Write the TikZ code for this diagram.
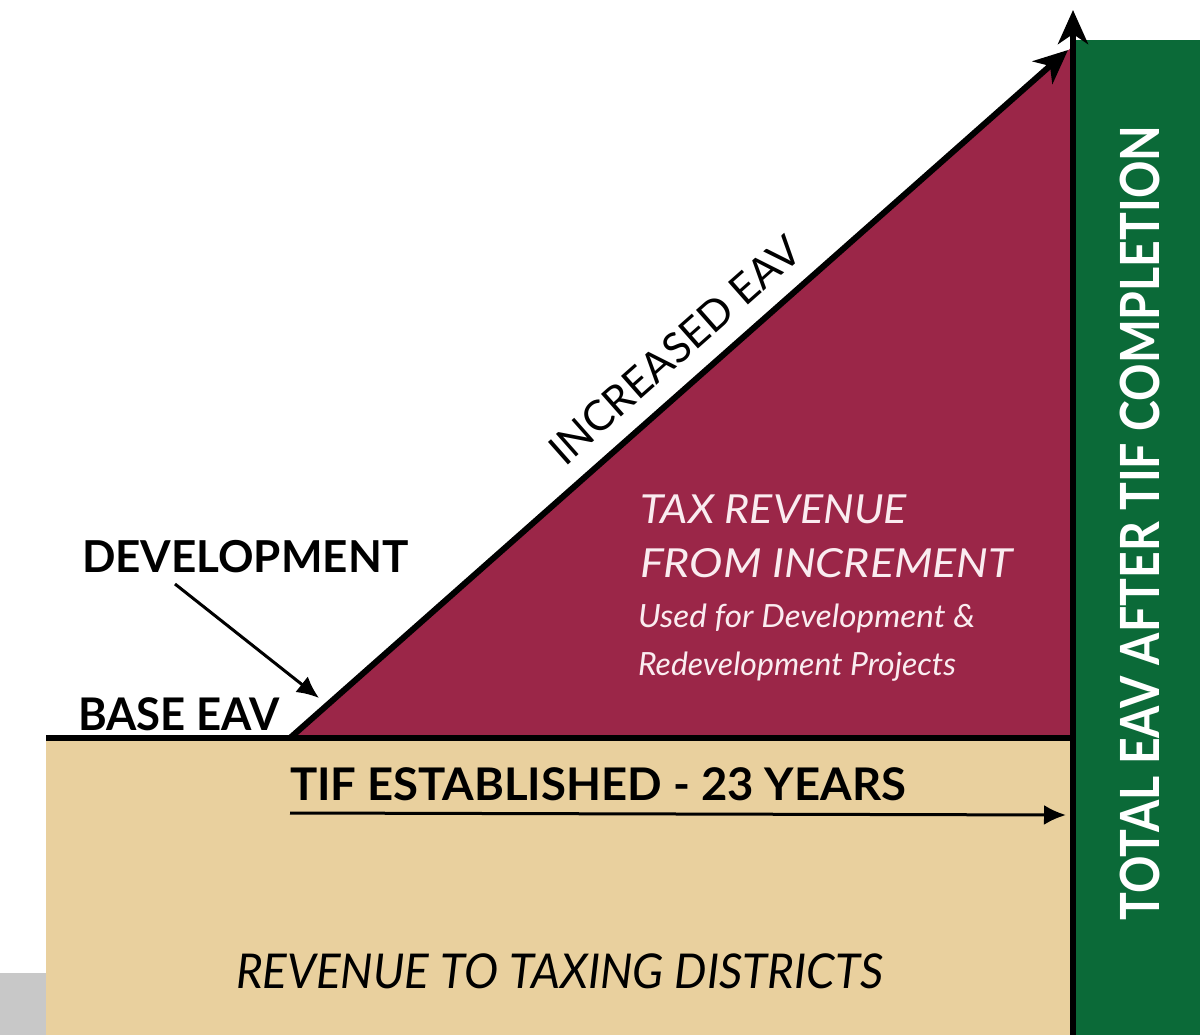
\documentclass[tikz,border=0pt]{standalone}
\usepackage{fontspec}
\setmainfont{Lato}
\usetikzlibrary{arrows.meta}
\definecolor{maroonfill}{RGB}{155,38,72}
\definecolor{tanfill}{RGB}{233,208,158}
\definecolor{greenfill}{RGB}{11,106,56}
\definecolor{grayfill}{RGB}{200,200,200}
\definecolor{pinktext}{RGB}{250,236,240}
\tikzset{
  lbl/.style={inner sep=0pt, outer sep=0pt, anchor=base west, text=black},
  boldlbl/.style={lbl, font=\fontsize{44}{44}\selectfont\bfseries},
  inclbl/.style={lbl, text=pinktext, font=\fontsize{40}{40}\selectfont\itshape},
  smalllbl/.style={lbl, text=pinktext, font=\fontsize{32}{32}\selectfont\itshape},
  thinarrow/.style={draw=black, line width=3pt, -{Latex[length=22pt,width=20pt]}},
  thickarrow/.style={draw=black, line width=6pt, -{Stealth[length=34pt,width=30pt,inset=10pt]}},
}
\begin{document}
\begin{tikzpicture}[x=1pt,y=-1pt]
\useasboundingbox (0,0) rectangle (1200,1035);
% areas
\fill[grayfill] (0,973) rectangle (46,1035);
\fill[tanfill] (46,738) rectangle (1073,1035);
\fill[greenfill] (1076,40) rectangle (1200,1035);
\coordinate (base) at (290,738);
\coordinate (apex) at (1068,50);
\coordinate (corner) at (1073,738);
\fill[maroonfill] (base) -- (1073,46) -- (corner) -- cycle;
% base line
\coordinate (left) at (46,738);
\coordinate (right) at (1076,738);
\draw[line width=6pt] (left) -- (right);
% vertical axis
\coordinate (vbot) at (1073,1035);
\coordinate (vtop) at (1073,10);
\draw[thickarrow] (vbot) -- (vtop);
% diagonal
\draw[thickarrow] (base) -- (apex);
% development arrow
\node[boldlbl] (dev) at (82,572) {DEVELOPMENT};
\coordinate (devstart) at (175,584);
\coordinate (devend) at (319,698);
\draw[thinarrow] (devstart) -- (devend);
\node[boldlbl, font=\fontsize{45}{45}\selectfont\bfseries] (baseeav) at (78,730) {\scalebox{0.97}[1]{BASE EAV}};
% TIF arrow
\node[boldlbl, font=\fontsize{45}{45}\selectfont\bfseries] (tif) at (290,800) {\scalebox{1.01}[1]{TIF ESTABLISHED - 23 YEARS}};
\coordinate (tifstart) at (290,813);
\coordinate (tifend) at (1066,815);
\draw[thinarrow] (tifstart) -- (tifend);
% revenue
\node[lbl, font=\fontsize{48}{48}\selectfont\itshape] (rev) at (236,988) {\scalebox{0.955}[1]{REVENUE TO TAXING DISTRICTS}};
% increment
\node[inclbl] (tax1) at (640,523) {\scalebox{1.08}[1]{TAX REVENUE}};
\node[inclbl] (tax2) at (640,577) {\scalebox{1.12}[1]{FROM INCREMENT}};
\node[smalllbl] (tax3) at (638,627) {\scalebox{1.04}[1]{Used for Development \&}};
\node[smalllbl] (tax4) at (638,675) {Redevelopment Projects};
% increased EAV
\node[lbl, rotate=41.5, font=\fontsize{42}{42}\selectfont] (inc) at (565,467) {INCREASED EAV};
% total
\node[inner sep=0pt, rotate=90, text=white, font=\fontsize{54}{54}\selectfont\bfseries] (total) at (1140,523) {\scalebox{0.86}[1]{TOTAL EAV AFTER TIF COMPLETION}};
\end{tikzpicture}
\end{document}
